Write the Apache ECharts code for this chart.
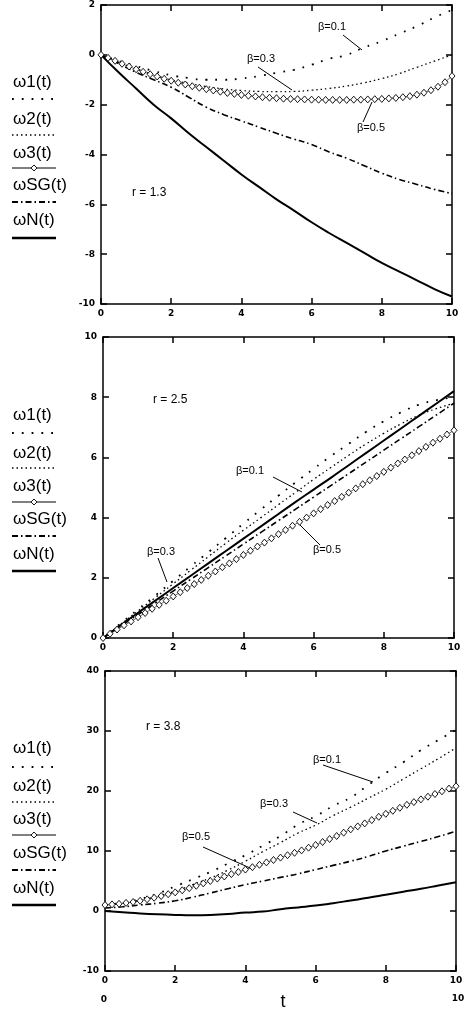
<!DOCTYPE html>
<html>
<head>
<meta charset="utf-8">
<script src="https://cdn.jsdelivr.net/npm/echarts@6/dist/echarts.min.js"></script>
<style>html,body{margin:0;padding:0;background:#fff}#main{width:474px;height:1011px}</style>
</head>
<body>
<div id="main"></div>
<script>
// t grids: coarse (step 0.5) for lines, fine (step 0.2) for the diamond series
var tCoarse = [];
for (var i = 0; i <= 20; i++) tCoarse.push(+(i * 0.5).toFixed(1));
var tFine = [];
for (var j = 0; j <= 50; j++) tFine.push(+(j * 0.2).toFixed(1));

// r = 1.3
var w1_a  = [0,-0.25,-0.45,-0.65,-0.82,-0.93,-1.0,-1.0,-0.95,-0.85,-0.72,-0.6,-0.4,-0.16,0,0.3,0.55,0.85,1.15,1.5,1.8];
var w2_a  = [0,-0.3,-0.55,-0.8,-1.0,-1.15,-1.27,-1.37,-1.43,-1.47,-1.48,-1.47,-1.42,-1.35,-1.25,-1.12,-0.95,-0.75,-0.5,-0.25,0];
var w3_a  = [0,-0.12,-0.24,-0.36,-0.47,-0.58,-0.68,-0.78,-0.87,-0.96,-1.04,-1.12,-1.19,-1.26,-1.32,-1.38,-1.43,-1.48,-1.53,-1.57,-1.61,-1.64,-1.67,-1.7,-1.72,-1.74,-1.76,-1.77,-1.78,-1.79,-1.8,-1.8,-1.81,-1.81,-1.81,-1.81,-1.8,-1.8,-1.79,-1.78,-1.77,-1.75,-1.73,-1.7,-1.66,-1.6,-1.52,-1.42,-1.28,-1.1,-0.85];
var wSG_a = [0,-0.35,-0.7,-1.0,-1.3,-1.7,-2.1,-2.4,-2.65,-2.9,-3.15,-3.38,-3.6,-3.9,-4.15,-4.45,-4.75,-5.0,-5.2,-5.4,-5.57];
var wN_a  = [0,-0.7,-1.35,-2.0,-2.55,-3.15,-3.7,-4.25,-4.8,-5.3,-5.8,-6.25,-6.72,-7.15,-7.55,-7.95,-8.35,-8.7,-9.05,-9.4,-9.7];

// r = 2.5
var w1_b  = [0,0.48,0.95,1.42,1.9,2.38,2.85,3.32,3.8,4.27,4.73,5.18,5.62,6.05,6.45,6.85,7.2,7.5,7.75,7.9,8.0];
var w2_b  = [0,0.45,0.9,1.35,1.8,2.25,2.7,3.15,3.58,4.0,4.43,4.85,5.27,5.67,6.07,6.45,6.8,7.12,7.4,7.62,7.8];
var w3_b  = [0,0.14,0.28,0.42,0.55,0.69,0.83,0.97,1.1,1.24,1.38,1.52,1.66,1.79,1.93,2.07,2.21,2.35,2.48,2.62,2.76,2.9,3.04,3.17,3.31,3.45,3.59,3.73,3.86,4.0,4.14,4.28,4.42,4.55,4.69,4.83,4.97,5.11,5.24,5.38,5.52,5.66,5.8,5.93,6.07,6.21,6.35,6.49,6.62,6.76,6.9];
var wSG_b = [0,0.39,0.78,1.17,1.56,1.95,2.34,2.73,3.12,3.51,3.9,4.29,4.68,5.07,5.46,5.85,6.24,6.63,7.02,7.41,7.8];
var wN_b  = [0,0.42,0.84,1.25,1.66,2.07,2.48,2.89,3.3,3.71,4.12,4.53,4.93,5.33,5.74,6.15,6.56,6.97,7.38,7.79,8.2];

// r = 3.8
var w1_c  = [1,1.4,2.0,2.9,4.1,5.3,6.5,7.9,9.3,10.9,12.5,14.4,15.8,17.5,18.9,21.0,23.0,24.8,26.8,28.5,30.2];
var w2_c  = [1,1.3,1.8,2.5,3.3,4.4,5.5,6.8,8.3,9.9,11.4,13.0,14.3,15.9,17.3,18.8,20.3,22.0,23.7,25.4,27.2];
var w3_c  = [1.0,1.1,1.2,1.35,1.5,1.7,1.95,2.2,2.5,2.8,3.1,3.45,3.8,4.2,4.6,5.0,5.4,5.75,6.15,6.5,6.9,7.3,7.7,8.1,8.5,8.9,9.3,9.7,10.1,10.55,11.0,11.5,12.0,12.5,13.05,13.6,14.1,14.6,15.15,15.7,16.2,16.7,17.2,17.7,18.15,18.6,19.05,19.5,19.95,20.4,20.8];
var wSG_c = [0.5,0.7,1.0,1.3,1.7,2.3,3.0,3.7,4.4,5.0,5.6,6.2,6.9,7.6,8.3,9.1,10.0,10.8,11.6,12.4,13.3];
var wN_c  = [0,-0.2,-0.4,-0.55,-0.65,-0.7,-0.65,-0.5,-0.25,-0.1,0.3,0.6,0.9,1.3,1.75,2.2,2.7,3.2,3.7,4.25,4.8];

var legendNames = ['ω1(t)', 'ω2(t)', 'ω3(t)', 'ωSG(t)', 'ωN(t)'];
var panelTitles = ['r = 1.3', 'r = 2.5', 'r = 3.8'];

function pairs(xs, ys) {
    return ys.map(function (v, k) { return [xs[k], v]; });
}

var styles = [
    { type: [1.8, 8], width: 1.8 },
    { type: [1.5, 3], width: 1.3 },
    { type: 'solid', width: 0.6 },
    { type: [6, 3, 1.5, 3], width: 1.6 },
    { type: 'solid', width: 2 }
];

var panels = [
    { data: [w1_a, w2_a, w3_a, wSG_a, wN_a], min: -10, max: 2, interval: 2, top: 5, left: 101, height: 299 },
    { data: [w1_b, w2_b, w3_b, wSG_b, wN_b], min: 0, max: 10, interval: 2, top: 337, left: 103, height: 301 },
    { data: [w1_c, w2_c, w3_c, wSG_c, wN_c], min: -10, max: 40, interval: 10, top: 671, left: 105, height: 300 }
];

var grid = [], xAxis = [], yAxis = [], series = [];
var tickLabel = { fontSize: 9, color: '#000', fontFamily: 'DejaVu Sans', fontWeight: 'bold' };
panels.forEach(function (p, g) {
    grid.push({ left: p.left, top: p.top, width: 351, height: p.height });
    var line = { show: true, onZero: false, lineStyle: { color: '#000', width: 1.5 } };
    var tick = { show: true, inside: true, length: 6, lineStyle: { color: '#000', width: 1.5 } };
    xAxis.push({ gridIndex: g, type: 'value', min: 0, max: 10, interval: 2, axisLine: line, axisTick: tick,
        splitLine: { show: false }, axisLabel: Object.assign({ margin: 5 }, tickLabel) });
    xAxis.push({ gridIndex: g, type: 'value', position: 'top', min: 0, max: 10, interval: 2, axisLine: line, axisTick: tick,
        splitLine: { show: false }, axisLabel: { show: false } });
    yAxis.push({ gridIndex: g, type: 'value', min: p.min, max: p.max, interval: p.interval, axisLine: line, axisTick: tick,
        splitLine: { show: false }, axisLabel: Object.assign({ margin: 6 }, tickLabel) });
    yAxis.push({ gridIndex: g, type: 'value', position: 'right', min: p.min, max: p.max, interval: p.interval, axisLine: line, axisTick: tick,
        splitLine: { show: false }, axisLabel: { show: false } });
    p.data.forEach(function (arr, s) {
        var diamond = s === 2;
        series.push({
            name: legendNames[s], type: 'line', xAxisIndex: g * 2, yAxisIndex: g * 2,
            data: pairs(diamond ? tFine : tCoarse, arr),
            smooth: !diamond, showSymbol: diamond, symbol: 'diamond', symbolSize: [6, 7],
            itemStyle: { color: '#fff', borderColor: '#000', borderWidth: 0.9 },
            lineStyle: { color: '#000', type: styles[s].type, width: styles[s].width },
            silent: true, animation: false, z: diamond ? 3 : 2
        });
    });
});

// annotations and left-hand legends
var graphic = [];
function txt(x, y, s, size, align) {
    graphic.push({ type: 'text', x: x, y: y, style: { text: s, fontSize: size || 11, fill: '#000',
        fontFamily: 'Liberation Sans', textAlign: align || 'left', textVerticalAlign: 'middle' } });
}
function seg(x1, y1, x2, y2, dash, w) {
    graphic.push({ type: 'line', shape: { x1: x1, y1: y1, x2: x2, y2: y2 },
        style: { stroke: '#000', lineWidth: w || 1, lineDash: dash || null } });
}

var legendText = [[82, 119, 153, 185, 220], [415, 453, 486, 519, 554], [748, 786, 819, 853, 888]];
var legendLine = [[99, 135, 168, 202, 238], [433, 468, 502, 536, 571], [767, 802, 835, 870, 905]];
legendText.forEach(function (ys, g) {
    ys.forEach(function (y, s) {
        txt(13, y, legendNames[s], 17);
        var ly = legendLine[g][s];
        seg(12, ly, 56, ly, styles[s].type === 'solid' ? null : styles[s].type, s === 2 ? 1 : styles[s].width + 0.3);
        if (s === 2) {
            graphic.push({ type: 'polygon', shape: { points: [[34, ly - 3], [37, ly], [34, ly + 3], [31, ly]] },
                style: { fill: '#fff', stroke: '#000', lineWidth: 0.9 } });
        }
    });
});

txt(132, 193, panelTitles[0], 12);
txt(153, 400, panelTitles[1], 12);
txt(146, 727, panelTitles[2], 12);

// beta labels with leader lines
txt(318, 27, 'β=0.1'); seg(343, 35, 362, 50);
txt(247, 59, 'β=0.3'); seg(258, 67, 292, 90);
txt(357, 128, 'β=0.5'); seg(363, 122, 372, 102);

txt(236, 471, 'β=0.1'); seg(273, 477, 302, 492);
txt(147, 552, 'β=0.3'); seg(158, 558, 167, 582);
txt(313, 550, 'β=0.5'); seg(320, 545, 298, 523);

txt(313, 760, 'β=0.1'); seg(323, 765, 373, 782);
txt(260, 804, 'β=0.3'); seg(293, 812, 317, 823);
txt(182, 837, 'β=0.5'); seg(203, 847, 250, 868);

// x range labels under the last panel
graphic.push({ type: 'text', x: 104, y: 1000, style: { text: '0', fontSize: 9, fontWeight: 'bold', fontFamily: 'DejaVu Sans', fill: '#000', textAlign: 'center', textVerticalAlign: 'middle' } });
graphic.push({ type: 'text', x: 458, y: 999, style: { text: '10', fontSize: 9, fontWeight: 'bold', fontFamily: 'DejaVu Sans', fill: '#000', textAlign: 'center', textVerticalAlign: 'middle' } });
txt(283, 1002, 't', 18, 'center');

var myChart = echarts.init(document.getElementById('main'));
var option = {
    backgroundColor: '#fff',
    animation: false,
    grid: grid,
    xAxis: xAxis,
    yAxis: yAxis,
    series: series,
    graphic: graphic
};
myChart.setOption(option);
</script>
</body>
</html>
